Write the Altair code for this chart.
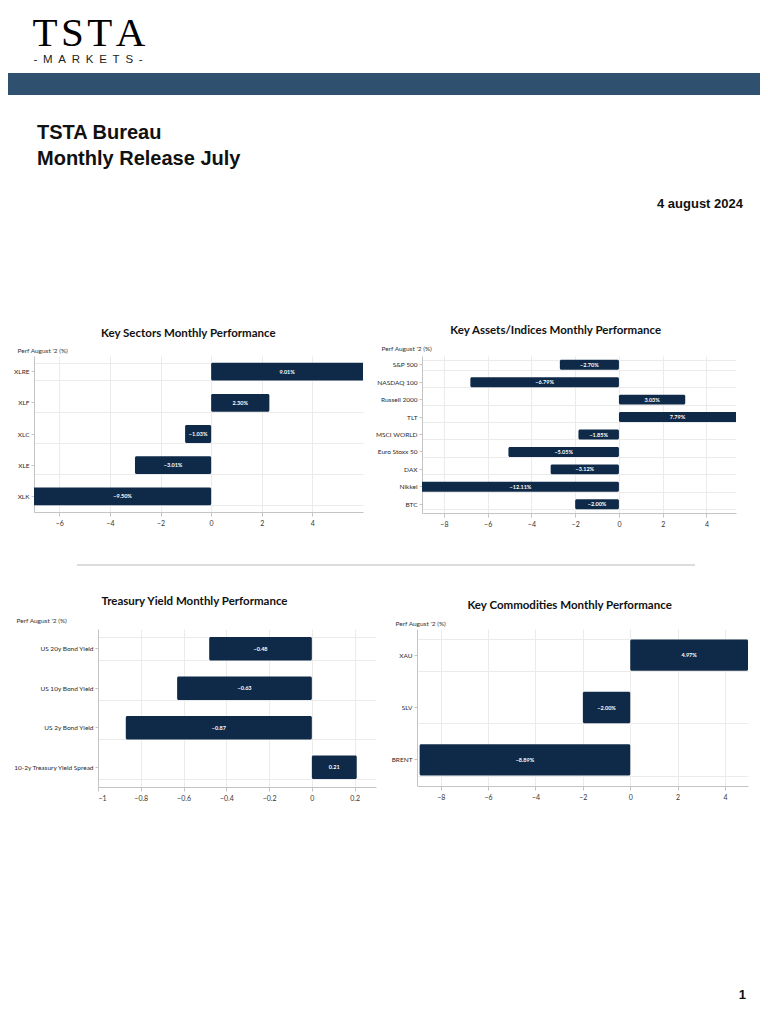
import altair as alt
import pandas as pd

# ---------------- data ----------------
sector_names = ["XLRE", "XLF", "XLC", "XLE", "XLK"]
sector_values = [9.01, 2.30, -1.03, -3.01, -9.50]
sector_ticks = [-6, -4, -2, 0, 2, 4]

asset_names = ["S&P 500", "NASDAQ 100", "Russell 2000", "TLT", "MSCI WORLD",
               "Euro Stoxx 50", "DAX", "Nikkei", "BTC"]
asset_values = [-2.70, -6.79, 3.03, 7.79, -1.85, -5.05, -3.12, -12.11, -2.00]
asset_ticks = [-8, -6, -4, -2, 0, 2, 4]

treasury_names = ["US 20y Bond Yield", "US 10y Bond Yield", "US 2y Bond Yield",
                  "10-2y Treasury Yield Spread"]
treasury_values = [-0.48, -0.63, -0.87, 0.21]
treasury_ticks = [-1, -0.8, -0.6, -0.4, -0.2, 0, 0.2]

commodity_names = ["XAU", "SLV", "BRENT"]
commodity_values = [4.97, -2.00, -8.89]
commodity_ticks = [-8, -6, -4, -2, 0, 2, 4]

NAVY = "#0f2a48"
BAND = "#30506f"
GRID = "#ebebeb"
AXIS = "#c4c4c4"
FONT = "Lato"
HFONT = "Liberation Sans"

one = pd.DataFrame({"k": [0]})


def spacer(w, h):
    return alt.Chart(one).mark_point(opacity=0).properties(width=w, height=h)


def bar_panel(names, values, domain, ticks, title, w, h, pad, suffix,
              title_x, title_y, title_offset, fmt="~g"):
    df = pd.DataFrame({"name": names, "value": values})
    lo, hi = domain
    yscale = alt.Scale(paddingInner=pad, paddingOuter=pad / 2)
    xscale = alt.Scale(domain=domain, nice=False)
    yaxis = alt.Axis(orient="left", title="Perf August '2 (%)",
                     titleAngle=0, titleAlign="left",
                     titleBaseline="middle", titleX=title_x,
                     titleY=title_y, titleFont=FONT, titleFontSize=6.5,
                     titleFontWeight="normal", titleColor="#333",
                     grid=True, gridColor=GRID, tickBand="extent",
                     ticks=False, domainColor=AXIS,
                     labelFont=FONT, labelFontSize=6.5,
                     labelColor="#2a2a2a", labelPadding=5)
    tick_axis = alt.Axis(orient="left", title=None, labels=False, grid=False,
                         domain=False, ticks=True, tickSize=3, tickColor=AXIS)
    xaxis = alt.Axis(values=ticks, title=None, grid=True, gridColor=GRID,
                     domainColor=AXIS, tickColor=AXIS, tickSize=4,
                     labelFont=FONT, labelFontSize=7, labelColor="#333",
                     labelPadding=3, format=fmt)
    base = alt.Chart(df).transform_calculate(
        mid=f"max(min(datum.value, {hi}), {lo}) / 2",
        label=f"format(datum.value, '.2f') + '{suffix}'",
    )
    bars = base.mark_bar(color=NAVY, cornerRadius=1.5, clip=True).encode(
        x=alt.X("value:Q", scale=xscale, axis=xaxis, stack=None),
        y=alt.Y("name:N", sort=names, scale=yscale, axis=yaxis),
    )
    tick_layer = base.mark_point(opacity=0).encode(
        y=alt.Y("name:N", sort=names, scale=yscale, axis=tick_axis),
    )
    text = base.mark_text(color="white", font=FONT, fontSize=5.5,
                          fontWeight="bold").encode(
        x=alt.X("mid:Q", scale=xscale, axis=xaxis),
        y=alt.Y("name:N", sort=names, scale=yscale, axis=None),
        text="label:N",
    )
    return alt.layer(bars, tick_layer, text).resolve_axis(
        y="independent"
    ).properties(
        width=w, height=h,
        title=alt.TitleParams(title, font=FONT, fontSize=11.5, fontWeight="bold",
                              color="#111", anchor="middle", frame="bounds",
                              offset=title_offset),
    )


def htext(txt, x, y, size, weight="normal", align="left", font=HFONT, color="#111"):
    return alt.Chart(one).mark_text(
        text=txt, align=align, baseline="alphabetic", font=font,
        fontSize=size, fontWeight=weight, color=color,
    ).encode(x=alt.value(x), y=alt.value(y))


# ---------------- header ----------------
band = alt.Chart(one).mark_rect(color=BAND).encode(
    x=alt.value(0), x2=alt.value(752), y=alt.value(65), y2=alt.value(87))
header = alt.layer(
    band,
    htext("T\u200aS\u200aT\u200aA", 81, 38, 41, font="Liberation Serif",
          align="center", color="#000"),
    htext("-\u2002M\u2002A\u2002R\u2002K\u2002E\u2002T\u2002S\u2002-", 80, 55, 11.5,
          align="center", color="#222"),
    htext("TSTA Bureau", 29, 131, 20, weight="bold"),
    htext("Monthly Release July", 29, 157, 20, weight="bold"),
    htext("4 august 2024", 735, 200, 13, weight="bold", align="right"),
).properties(width=752, height=316)

# ---------------- panels ----------------
c1 = bar_panel(sector_names, sector_values, [-7, 6], sector_ticks,
               "Key Sectors Monthly Performance", 329, 156, 0.43, "%",
               -17, -6, 8)
c2 = bar_panel(asset_names, asset_values, [-9, 5.35], asset_ticks,
               "Key Assets/Indices Monthly Performance", 314, 157, 0.43, "%",
               -41, -8, 9)
c3 = bar_panel(treasury_names, treasury_values, [-1, 0.3], treasury_ticks,
               "Treasury Yield Monthly Performance", 278, 158, 0.41, "",
               -82, -8.5, 10)
c4 = bar_panel(commodity_names, commodity_values, [-9, 4.97], commodity_ticks,
               "Key Commodities Monthly Performance", 331, 157, 0.40, "%",
               -22, -6, 9)

row1 = alt.hconcat(spacer(26, 1), c1, spacer(59, 1), c2,
                   spacing=0, bounds="flush")
row2 = alt.hconcat(spacer(90, 1), c3, spacer(41, 1), c4,
                   spacing=0, bounds="flush")

sep = alt.Chart(one).mark_rule(color="#d0d0d0", strokeWidth=1.5).encode(
    x=alt.value(69), x2=alt.value(687), y=alt.value(38)
).properties(width=752, height=69)

footer = htext("1", 738, 198, 13, weight="bold", align="right").properties(
    width=752, height=210)

chart = alt.vconcat(header, row1, sep, row2, footer, spacing=0,
                    padding=0).configure_view(stroke=None)

chart.save("out.html", embed_options={"renderer": "svg", "actions": False})
